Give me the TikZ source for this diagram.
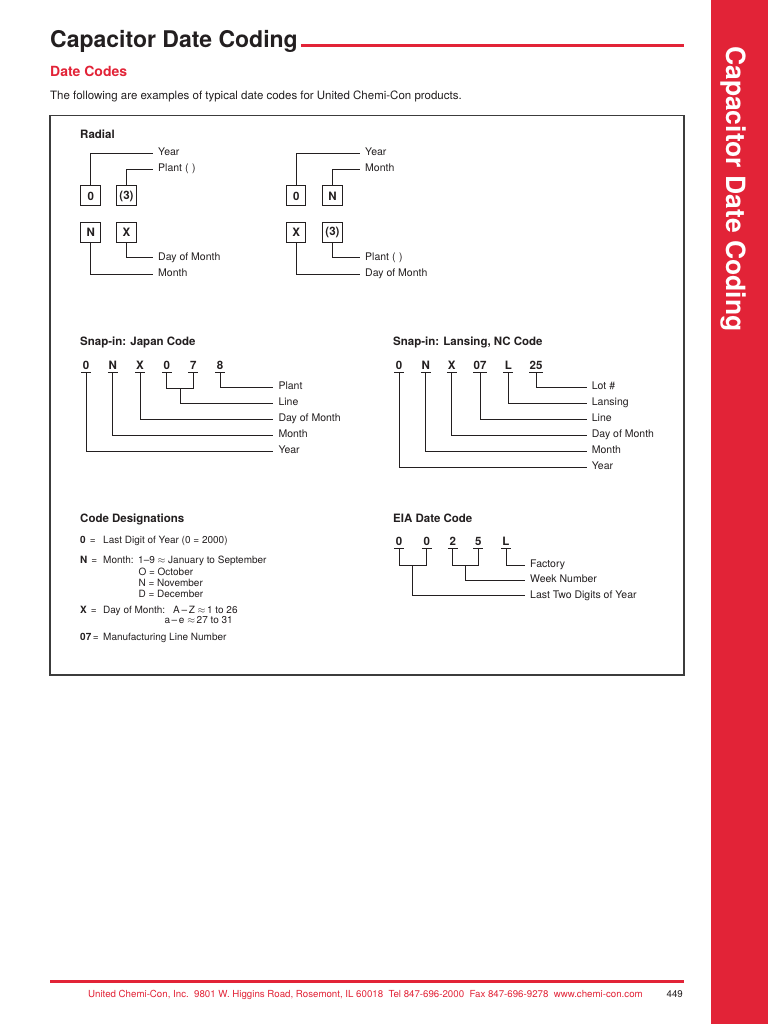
\documentclass[tikz,border=0pt]{standalone}
\usepackage{fontspec}
\setmainfont{TeX Gyre Heros}
\usetikzlibrary{calc}
\definecolor{ucred}{RGB}{226,35,55}
\definecolor{inkgray}{RGB}{35,31,32}
\definecolor{framegray}{RGB}{60,60,60}
\newcommand{\gap}{\hspace{0.55em}}

\begin{document}
\begin{tikzpicture}[x=1pt,y=-1pt,
  lbl/.style={anchor=west,inner xsep=5pt,inner ysep=0pt,text height=7pt,text depth=2pt,
    font=\fontsize{10.5}{12}\selectfont,text=inkgray},
  lead/.style={draw=inkgray,line width=0.8pt},
  codebox/.style={draw=inkgray,line width=1pt,minimum width=19.5pt,minimum height=20pt,
    inner sep=0pt,font=\bfseries\fontsize{11.5}{12}\selectfont,text=inkgray},
  codechar/.style={anchor=base,inner xsep=0pt,inner ysep=2.7pt,text depth=0pt,minimum width=9.5pt,
    font=\bfseries\fontsize{11.5}{12}\selectfont,text=inkgray},
  head/.style={anchor=base west,inner sep=0pt,font=\bfseries\fontsize{11.5}{13}\selectfont,text=inkgray},
  desc/.style={anchor=base west,inner sep=0pt,font=\fontsize{10}{12}\selectfont,text=inkgray}]
  \useasboundingbox (0,0) rectangle (768,1024);
  \fill[white] (0,0) rectangle (768,1024);
  % side tab
  \fill[ucred] (711,0) rectangle (768,1024);
  \node[rotate=-90,anchor=base west,inner sep=0pt,text=white,
    font=\bfseries\fontsize{26.5}{30}\selectfont] (sidetitle) at (726.5,46) {Capacitor Date Coding};
  % page heading
  \node[anchor=base west,inner sep=0pt,font=\bfseries\fontsize{23}{26}\selectfont,text=inkgray]
    (title) at (50,48) {Capacitor Date Coding};
  \draw[ucred,line width=3.5pt] ($(title.base east)+(3,-2.5)$) -- (684,45.5);
  \node[anchor=base west,inner sep=0pt,font=\bfseries\fontsize{14}{16}\selectfont,text=ucred]
    (subtitle) at (50,77) {Date Codes};
  \node[desc,font=\fontsize{11.5}{13}\selectfont] (intro) at (50,100)
    {The following are examples of typical date codes for United Chemi-Con products.};
  \draw[framegray,line width=1.2pt] (50,115.5) rectangle (684,675);

  % radial
  \node[head] (hRadial) at (80,139) {Radial};
  \node[codebox] (rL0) at (90.7,196) {0};
  \node[codebox] (rL3) at (126.5,196) {(3)};
  \node[codebox] (rLN) at (90.7,232.7) {N};
  \node[codebox] (rLX) at (126.5,232.7) {X};
  \node[lbl] (rLyear) at (153,153.3) {Year};
  \node[lbl] (rLplant) at (153,169.3) {Plant (\,\,)};
  \node[lbl] (rLday) at (153,257.7) {Day of Month};
  \node[lbl] (rLmonth) at (153,274) {Month};
  \draw[lead] (rL0.north) |- (rLyear.west);
  \draw[lead] (rL3.north) |- (rLplant.west);
  \draw[lead] (rLX.south) |- (rLday.west);
  \draw[lead] (rLN.south) |- (rLmonth.west);

  \node[codebox] (rR0) at (296.2,196) {0};
  \node[codebox] (rRN) at (332.5,196) {N};
  \node[codebox] (rRX) at (296.2,232.7) {X};
  \node[codebox] (rR3) at (332.5,232.7) {(3)};
  \node[lbl] (rRyear) at (360,153.3) {Year};
  \node[lbl] (rRmonth) at (360,169.3) {Month};
  \node[lbl] (rRplant) at (360,257.7) {Plant (\,\,)};
  \node[lbl] (rRday) at (360,274) {Day of Month};
  \draw[lead] (rR0.north) |- (rRyear.west);
  \draw[lead] (rRN.north) |- (rRmonth.west);
  \draw[lead] (rR3.south) |- (rRplant.west);
  \draw[lead] (rRX.south) |- (rRday.west);

  % snap-in, japan
  \node[head] (hJapan) at (80,345) {Snap-in: Japan Code};
  \foreach \c/\x/\t in {j1/86/0,j2/112.7/N,j3/140/X,j4/166.7/0,j5/193.3/7,j6/220/8}{
    \node[codechar] (\c) at (\x,369.3) {\t};
    \draw[lead] (\c.south west) -- (\c.south east);
  }
  \node[lbl] (jPlant) at (273.3,387) {Plant};
  \node[lbl] (jLine) at (273.3,403) {Line};
  \node[lbl] (jDay) at (273.3,419) {Day of Month};
  \node[lbl] (jMonth) at (273.3,435) {Month};
  \node[lbl] (jYear) at (273.3,451) {Year};
  \draw[lead] (j6.south) |- (jPlant.west);
  \draw[lead] (j4.south) -- ++(0,16) -| (j5.south);
  \coordinate (jJoin) at ($(j4.south)!0.5!(j5.south)+(0,16)$);
  \draw[lead] (jJoin) |- (jLine.west);
  \draw[lead] (j3.south) |- (jDay.west);
  \draw[lead] (j2.south) |- (jMonth.west);
  \draw[lead] (j1.south) |- (jYear.west);

  % snap-in, lansing
  \node[head] (hLansing) at (393,345) {Snap-in: Lansing, NC Code};
  \foreach \c/\x/\t in {n1/399/0,n2/425.7/N,n3/451.7/X,n4/480/07,n5/508.3/L,n6/536/25}{
    \node[codechar] (\c) at (\x,369.3) {\t};
    \draw[lead] (\c.south west) -- (\c.south east);
  }
  \node[lbl] (nLot) at (586.7,387) {Lot \#};
  \node[lbl] (nLansing) at (586.7,403) {Lansing};
  \node[lbl] (nLine) at (586.7,419) {Line};
  \node[lbl] (nDay) at (586.7,435) {Day of Month};
  \node[lbl] (nMonth) at (586.7,451) {Month};
  \node[lbl] (nYear) at (586.7,467) {Year};
  \draw[lead] (n6.south) |- (nLot.west);
  \draw[lead] (n5.south) |- (nLansing.west);
  \draw[lead] (n4.south) |- (nLine.west);
  \draw[lead] (n3.south) |- (nDay.west);
  \draw[lead] (n2.south) |- (nMonth.west);
  \draw[lead] (n1.south) |- (nYear.west);

  % code designations
  \node[head] (hDesig) at (80,522) {Code Designations};
  \node[desc] (dZero) at (80,543.5) {\makebox[23pt][l]{\textbf{0}\hspace{4pt}=}Last Digit of Year (0 = 2000)};
  \node[desc] (dMonth) at (80,563.5) {\makebox[23pt][l]{\textbf{N}\hspace{4pt}=}\makebox[35pt][l]{Month:}1--9 $\approx$ January to September};
  \node[desc] (dOct) at (138.3,575) {O = October};
  \node[desc] (dNov) at (138.3,586) {N = November};
  \node[desc] (dDec) at (138.3,597) {D = December};
  \node[desc] (dDay) at (80,613) {\makebox[23pt][l]{\textbf{X}\hspace{4pt}=}\makebox[70pt][l]{Day of Month:}A\,--\,Z $\approx$\,1 to 26};
  \node[desc] (dDayb) at (164.3,623.5) {a\,--\,e $\approx$\,27 to 31};
  \node[desc] (dLine) at (80,640.5) {\makebox[23pt][l]{\textbf{07}\hspace{1.5pt}=}Manufacturing Line Number};

  % eia
  \node[head] (hEIA) at (393,522) {EIA Date Code};
  \foreach \c/\x/\t in {e1/399/0,e2/426.7/0,e3/452.7/2,e4/478.3/5,e5/506/L}{
    \node[codechar] (\c) at (\x,545.7) {\t};
    \draw[lead] (\c.south west) -- (\c.south east);
  }
  \node[lbl] (eFactory) at (525,565) {Factory};
  \node[lbl] (eWeek) at (525,580.3) {Week Number};
  \node[lbl] (eYear) at (525,595.5) {Last Two Digits of Year};
  \draw[lead] (e5.south) |- (eFactory.west);
  \draw[lead] (e3.south) -- ++(0,16.7) -| (e4.south);
  \coordinate (eWeekJoin) at ($(e3.south)!0.5!(e4.south)+(0,16.7)$);
  \draw[lead] (eWeekJoin) |- (eWeek.west);
  \draw[lead] (e1.south) -- ++(0,16.7) -| (e2.south);
  \coordinate (eYearJoin) at ($(e1.south)!0.5!(e2.south)+(0,16.7)$);
  \draw[lead] (eYearJoin) |- (eYear.west);

  % footer
  \draw[ucred,line width=3pt] (50,981) -- (684,981);
  \node[anchor=base west,inner sep=0pt,font=\fontsize{9.7}{11}\selectfont,text=ucred] (footaddr) at (88,997.5)
    {United Chemi-Con, Inc.\gap 9801 W. Higgins Road, Rosemont, IL 60018\gap Tel 847-696-2000\gap Fax 847-696-9278\gap www.chemi-con.com};
  \node[anchor=base east,inner sep=0pt,font=\fontsize{9.7}{11}\selectfont,text=inkgray] (pageno) at (683,997.5) {449};
\end{tikzpicture}
\end{document}
